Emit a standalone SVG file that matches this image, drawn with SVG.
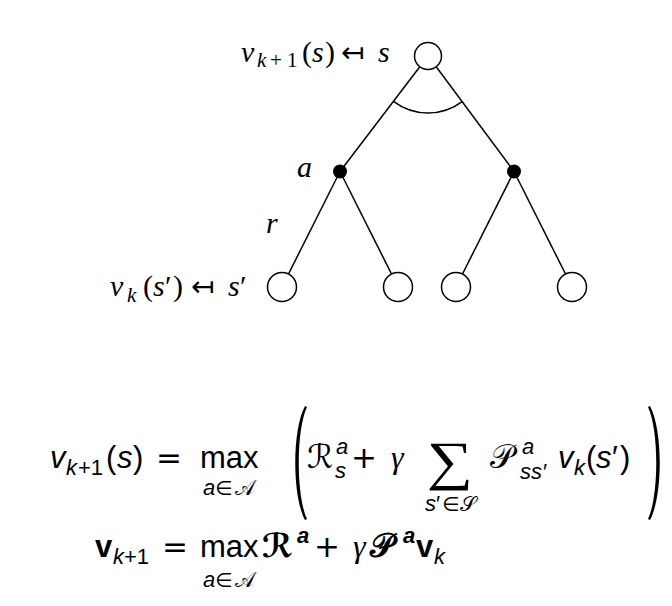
<svg xmlns="http://www.w3.org/2000/svg" width="672" height="606" viewBox="0 0 672 606">
<style>
.ln{stroke:#000;stroke-width:1.5;fill:none}
.st{stroke:#000;stroke-width:1.5;fill:#fff}
.ac{fill:#000}
.mi{font-family:"Liberation Serif",serif;font-style:italic;font-size:30px}
.mr{font-family:"Liberation Serif",serif;font-size:30px}
.ms{font-family:"Liberation Serif",serif;font-size:21px}
.msi{font-family:"Liberation Serif",serif;font-style:italic;font-size:21px}
.ar{font-family:"DejaVu Sans",sans-serif;font-size:28px}
.e{font-family:"Liberation Sans",sans-serif;font-size:31px}
.ei{font-family:"Liberation Sans",sans-serif;font-style:italic;font-size:31px}
.es{font-family:"Liberation Sans",sans-serif;font-size:22px}
.esi{font-family:"Liberation Sans",sans-serif;font-style:italic;font-size:22px}
.op{font-family:"DejaVu Sans",sans-serif;font-size:31px}
.ops{font-family:"DejaVu Sans",sans-serif;font-size:20px}
.cal{font-family:"DejaVu Sans","Noto Sans",sans-serif;font-size:33px}
.cals{font-family:"DejaVu Sans","Noto Sans",sans-serif;font-size:21px}
.g{font-family:"Liberation Serif",serif;font-style:italic;font-size:32px}
.b{font-weight:bold}
</style>
<g id="connectors">
<line class="ln" x1="419.8" y1="66.7" x2="340" y2="171.5"/>
<line class="ln" x1="436.2" y1="66.7" x2="514" y2="171.5"/>
<line class="ln" x1="340" y1="171.5" x2="288.5" y2="274"/>
<line class="ln" x1="340" y1="171.5" x2="391.5" y2="274"/>
<line class="ln" x1="514" y1="171.5" x2="462.5" y2="274"/>
<line class="ln" x1="514" y1="171.5" x2="565.5" y2="274"/>
<path class="ln" d="M393.5,101.3 A57,57 0 0 0 462.5,101.3"/>
</g>
<g id="root"><circle class="st" cx="428" cy="56" r="13.5"/></g>
<g id="action-left"><circle class="ac" cx="340" cy="171.5" r="7"/></g>
<g id="action-right"><circle class="ac" cx="514" cy="171.5" r="7"/></g>
<g id="leaf1"><circle class="st" cx="282" cy="287" r="14.5"/></g>
<g id="leaf2"><circle class="st" cx="398" cy="287" r="14.5"/></g>
<g id="leaf3"><circle class="st" cx="456" cy="287" r="14.5"/></g>
<g id="leaf4"><circle class="st" cx="572" cy="287" r="14.5"/></g>
<g id="labels">
<text class="mi" x="241" y="62">v</text>
<text class="msi" x="257" y="67">k</text>
<text class="ms" x="270" y="67">+</text>
<text class="ms" x="287" y="67">1</text>
<text class="mr" x="302" y="62">(</text>
<text class="mi" x="312" y="62">s</text>
<text class="mr" x="325" y="62">)</text>
<text class="ar" x="341" y="62">↤</text>
<text class="mi" x="378" y="62">s</text>
<text class="mi" x="297" y="177">a</text>
<text class="mi" x="266" y="233">r</text>
<text class="mi" x="110" y="296">v</text>
<text class="msi" x="127" y="302">k</text>
<text class="mr" x="143" y="296">(</text>
<text class="mi" x="153" y="296">s</text>
<text class="mr" x="165" y="296">′</text>
<text class="mr" x="173" y="296">)</text>
<text class="ar" x="191" y="296">↤</text>
<text class="mi" x="228" y="296">s</text>
<text class="mr" x="240" y="296">′</text>
</g>
<g id="eq1">
<text class="ei" x="50" y="468">v</text>
<text class="esi" x="66" y="475">k</text>
<text class="es" x="78" y="475">+1</text>
<text class="e" x="106" y="468">(</text>
<text class="ei" x="117" y="468">s</text>
<text class="e" x="133" y="468">)</text>
<text class="op" x="156" y="468">=</text>
<text class="e" x="200" y="468">max</text>
<text class="esi" x="203" y="495">a</text>
<text class="ops" x="215" y="495">∈</text>
<text class="cals" x="235" y="495">𝒜</text>
<path class="ac" d="M305,406 C292,430 292,496 305,520 L307,519 C296,496 296,430 307,407 Z"/>
<text class="cal" x="307" y="468">ℛ</text>
<text class="esi" x="336" y="454">a</text>
<text class="esi" x="335" y="478">s</text>
<text class="op" x="351" y="468">+</text>
<text class="g" x="391" y="468">γ</text>
<text style="font-family:'Liberation Serif',serif;font-size:54px" transform="translate(427,479) scale(1.2,1)" x="0" y="0">∑</text>
<text class="esi" x="425" y="511">s</text>
<text class="es" x="436" y="511">′</text>
<text class="ops" x="442" y="511">∈</text>
<text class="cals" x="460" y="511">𝒮</text>
<text class="cal" x="490" y="468">𝒫</text>
<text class="esi" x="522" y="454">a</text>
<text class="esi" x="520" y="479">ss</text>
<text class="es" x="543" y="479">′</text>
<text class="ei" x="558" y="468">v</text>
<text class="esi" x="574" y="475">k</text>
<text class="e" x="586" y="468">(</text>
<text class="ei" x="596" y="468">s</text>
<text class="e" x="612" y="468">′</text>
<text class="e" x="620" y="468">)</text>
<path class="ac" d="M650,406 C663,430 663,496 650,520 L648,519 C659,496 659,430 648,407 Z"/>
</g>
<g id="eq2">
<text class="e b" x="95" y="557">v</text>
<text class="esi" x="113" y="564">k</text>
<text class="es" x="124" y="564">+1</text>
<text class="op" x="162" y="557">=</text>
<text class="e" x="200" y="557">max</text>
<text class="esi" x="203" y="587">a</text>
<text class="ops" x="215" y="587">∈</text>
<text class="cals" x="235" y="587">𝒜</text>
<text class="cal b" x="262" y="557">ℛ</text>
<text class="esi b" x="297" y="543">a</text>
<text class="op" x="314" y="557">+</text>
<text class="g" x="353" y="557">γ</text>
<text class="cal b" x="370" y="557">𝒫</text>
<text class="esi b" x="403" y="543">a</text>
<text class="e b" x="416" y="557">v</text>
<text class="esi" x="434" y="564">k</text>
</g>
</svg>
